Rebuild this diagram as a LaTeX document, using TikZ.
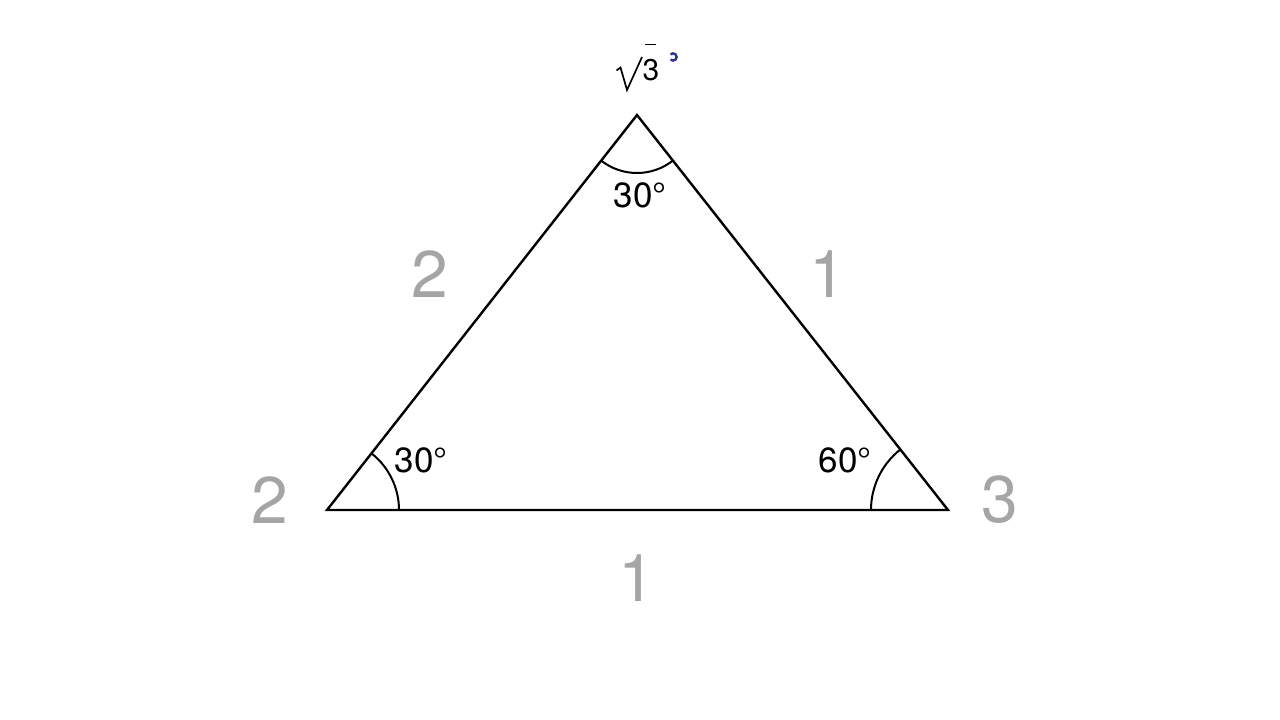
\documentclass[tikz,border=0pt]{standalone}
\usepackage{fontspec}
\setmainfont{TeX Gyre Heros}
\usetikzlibrary{calc}
\definecolor{sidegray}{RGB}{165,165,165}
\definecolor{penblue}{RGB}{40,50,160}
\begin{document}
\begin{tikzpicture}[x=1pt,y=-1pt,
  edge/.style={line width=2.4pt,line join=miter},
  anglearc/.style={line width=2pt},
  sidelbl/.style={text=sidegray,font=\fontsize{66}{66}\selectfont,inner sep=0pt},
  anglelbl/.style={font=\fontsize{35}{35}\selectfont,inner sep=0pt}]
\useasboundingbox (0,0) rectangle (1280,720);
\fill[white] (0,0) rectangle (1280,720);
\coordinate (A) at (327,510);
\coordinate (B) at (948,510);
\coordinate (C) at (637,115);
\draw[edge] (A) -- (B) -- (C) -- cycle;
% angle arcs
\draw[anglearc] ($(A)+(72,0)$) arc[start angle=0,end angle=-51.8,radius=72];
\draw[anglearc] ($(B)+(-77,0)$) arc[start angle=180,end angle=231.8,radius=77];
\draw[anglearc] ($(C)+(128.2:58)$) arc[start angle=128.2,end angle=51.8,radius=58];
% side labels
\node[sidelbl] (s1) at (430,274) {2};
\node[sidelbl] (s2) at (828,274) {1};
\node[sidelbl] (s3) at (270,500) {2};
\node[sidelbl] (s4) at (1000,500) {3};
\node[sidelbl] (s5) at (637,578) {1};
% angle labels
\node[anglelbl] (a1) at (640,195) {30°};
\node[anglelbl] (a2) at (421,460) {30°};
\node[anglelbl] (a3) at (845,460) {60°};
% top label: square root of 3
\node[font=\fontsize{30}{30}\selectfont,inner sep=0pt] (t) at (651,70) {3};
\draw[line width=1.7pt,line join=miter] (616.5,70.5) -- (620.5,67.5) -- (627,90) -- (642,57);
\draw[line width=1.7pt] (645,44.5) -- (656,44.5);
\draw[penblue,line width=2.4pt] (670.5,59.5) arc[start angle=135,end angle=-135,radius=3.6];
\end{tikzpicture}
\end{document}
